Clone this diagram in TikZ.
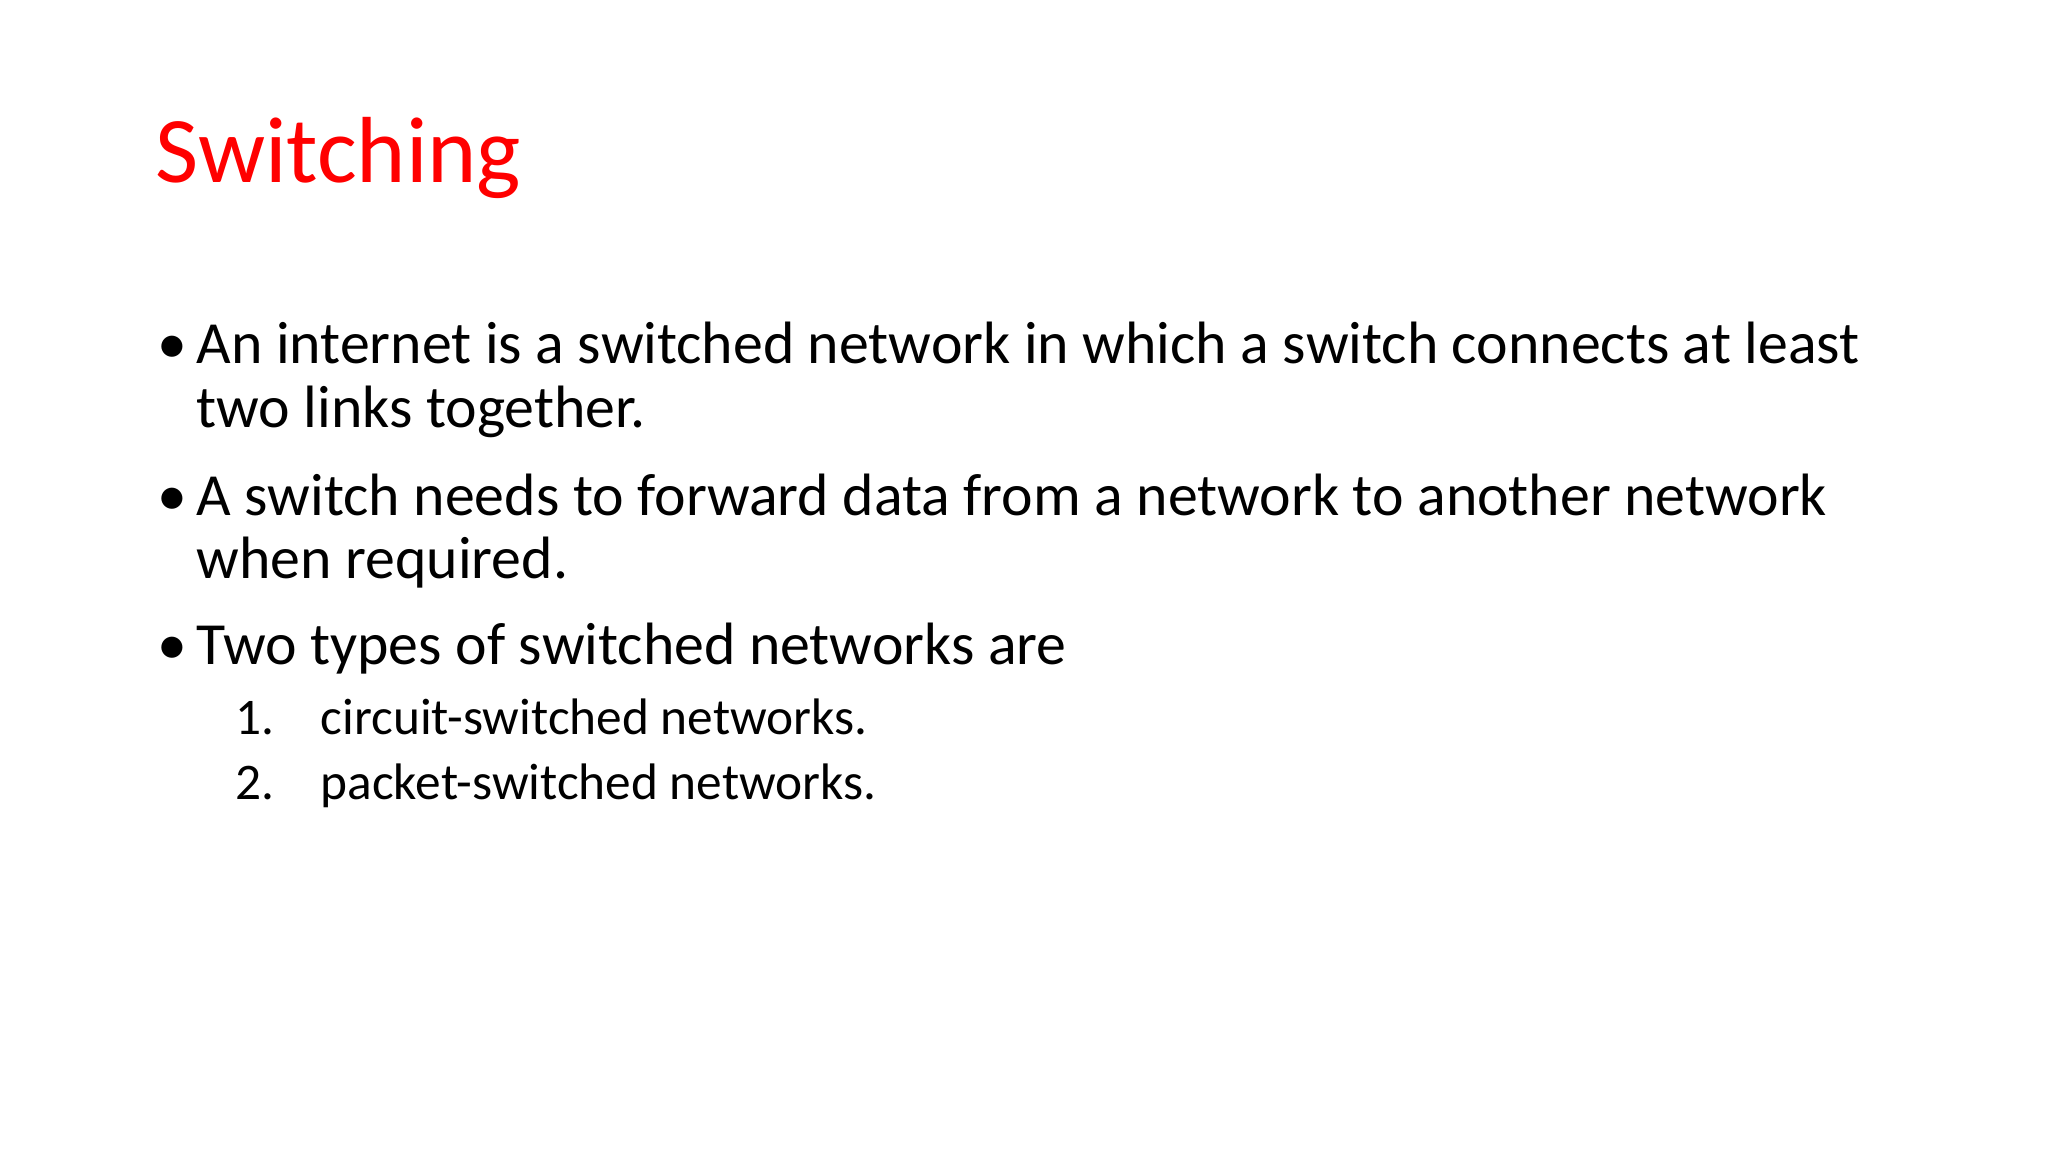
\documentclass[tikz,border=0pt]{standalone}
\usepackage{fontspec}
\setmainfont{Carlito}
\begin{document}
\begin{tikzpicture}[x=0.01cm,y=-0.01cm,
  ttl/.style={anchor=base west,inner sep=0pt,font=\fontsize{26.7pt}{32pt}\selectfont,text=red},
  body/.style={anchor=base west,inner sep=0pt,font=\fontsize{17pt}{20pt}\selectfont},
  sub/.style={anchor=base west,inner sep=0pt,font=\fontsize{14.6pt}{18pt}\selectfont}]
\useasboundingbox (0,0) rectangle (2048,1152);
\node[ttl] (t) at (155,183) {Switching};
\node[body] (b1) at (157,364) {\textbullet};
\node[body] (l1) at (196,364) {An internet is a switched network in which a switch connects at least};
\node[body] (l1b) at (196,428) {two links together.};
\node[body] (b2) at (157,515) {\textbullet};
\node[body] (l2) at (196,515) {A switch needs to forward data from a network to another network};
\node[body] (l2b) at (196,579) {when required.};
\node[body] (b3) at (157,665) {\textbullet};
\node[body] (l3) at (196,665) {Two types of switched networks are};
\node[sub] (n1) at (235,734) {1.};
\node[sub] (s1) at (320,734) {circuit-switched networks.};
\node[sub] (n2) at (235,799) {2.};
\node[sub] (s2) at (320,799) {packet-switched networks.};
\end{tikzpicture}
\end{document}
